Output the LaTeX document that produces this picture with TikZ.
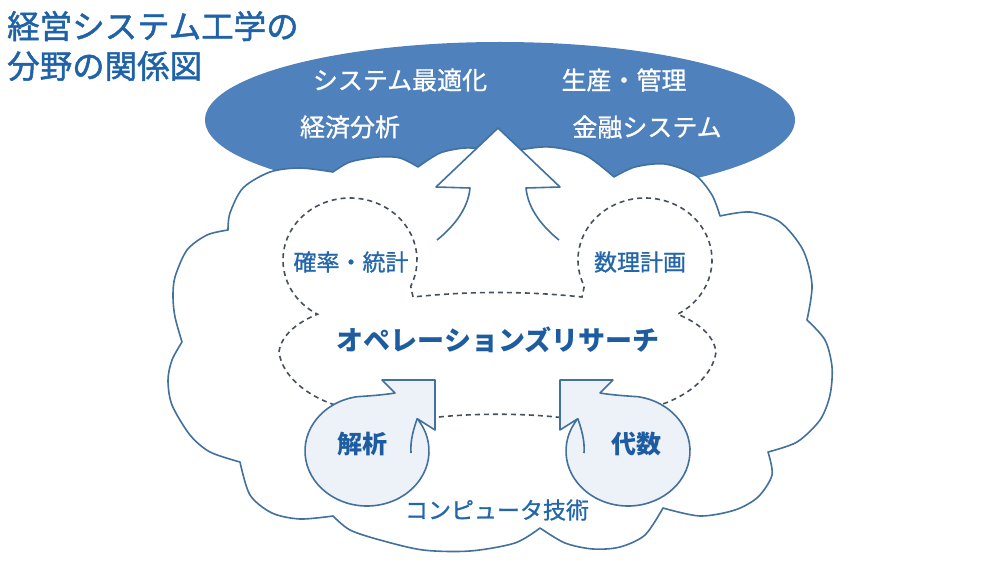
\documentclass[tikz,border=0pt]{standalone}
\usepackage{fontspec}
\setmainfont{Noto Sans CJK JP}
\newfontfamily\medfont{Noto Sans CJK JP}[FakeBold=1.5]
\newfontfamily\semifont{Noto Sans CJK JP}[FakeBold=0.9]
\usetikzlibrary{calc}
\definecolor{ellblue}{HTML}{4F81BD}
\definecolor{edgeblue}{HTML}{41719C}
\definecolor{titleblue}{HTML}{2062A8}
\definecolor{txtblue}{HTML}{2366A9}
\definecolor{boldblue}{HTML}{1D5CA0}
\definecolor{swirlfill}{HTML}{EDF1F8}
\definecolor{dashgray}{HTML}{46505C}
\tikzset{
  outline/.style={draw=edgeblue, line width=1.6pt, line join=round},
  dashline/.style={draw=dashgray, line width=1.6pt, dash pattern=on 5pt off 4pt},
  titletext/.style={anchor=west, inner sep=0pt, text=titleblue, font=\medfont\fontsize{32.5}{36}\selectfont},
  elltext/.style={inner sep=0pt, text=white, font=\semifont\fontsize{25}{28}\selectfont},
  lbl/.style={inner sep=0pt, text=txtblue, font=\semifont\fontsize{23}{26}\selectfont},
  boldlbl/.style={inner sep=0pt, text=boldblue, font=\bfseries\fontsize{25}{28}\selectfont},
}
\begin{document}
\begin{tikzpicture}[x=1pt,y=-1pt]
\useasboundingbox (0,0) rectangle (1008,564);
\fill[white] (0,0) rectangle (1008,564);

% top ellipse
\fill[ellblue] (500,120) ellipse [x radius=295, y radius=78];
\node[elltext] (sysopt) at (400,80) {システム最適化};
\node[elltext] (prod)   at (624,80) {生産・管理};
\node[elltext] (econ)   at (350,127) {経済分析};
\node[elltext] (fin)    at (647,127) {金融システム};

% cloud
\draw[outline, fill=white]
  plot[smooth] coordinates {(182,342) (175,317) (173,297) (175,277) (187,250) (207,235) (228,230)}
  -- plot[smooth] coordinates {(228,230) (230,213) (243,188) (270,172) (300,168) (333,172)}
  -- plot[smooth] coordinates {(333,172) (350,162) (378,157) (400,158) (418,167)}
  -- plot[smooth] coordinates {(418,167) (440,153) (465,148) (485,150) (497,158)}
  -- plot[smooth] coordinates {(497,158) (520,150) (550,147) (585,155) (614,177)}
  -- plot[smooth] coordinates {(614,177) (635,167) (665,164) (695,175) (712,195) (720,216)}
  -- plot[smooth] coordinates {(720,216) (750,212) (780,222) (803,250) (812,285) (807,320)}
  -- plot[smooth] coordinates {(807,320) (825,340) (832,367) (830,395) (820,420) (797,442) (768,452)}
  -- plot[smooth] coordinates {(768,452) (772,475) (758,497) (735,510) (700,516) (663,508)}
  -- plot[smooth] coordinates {(663,508) (645,535) (620,547) (593,549) (565,543) (540,528)}
  -- plot[smooth] coordinates {(540,528) (515,543) (470,551) (423,550) (380,540) (350,530) (333,516)}
  -- plot[smooth] coordinates {(333,516) (300,519) (272,513) (250,495) (240,462)}
  -- plot[smooth] coordinates {(240,462) (210,452) (190,435) (172,405) (168,380) (172,360) (182,342)}
  -- cycle;

% big up arrow
\draw[outline, fill=white] (437,240) .. controls (452,228) and (468,210) .. (470,188)
  -- (436,187) -- (498,128) -- (560,187) -- (526,188)
  .. controls (528,210) and (544,228) .. (559,240);

% dashed OR region
\draw[dashline]
  (335,405) .. controls (305,395) and (282,375) .. (279,352)
  .. controls (281,335) and (298,322) .. ($(350,260)+(119:67 and 62)$)
  arc[start angle=119, end angle=385, x radius=67, y radius=62]
  -- (413,297) .. controls (470,291) and (525,291) .. (582,297)
  -- ($(645,260)+(155:67 and 62)$)
  arc[start angle=155, end angle=421, x radius=67, y radius=62]
  .. controls (697,322) and (714,335) .. (716,352)
  .. controls (713,375) and (690,395) .. (660,405);
\draw[dashline] (430,418) .. controls (470,413) and (525,413) .. (565,418);

% left swirl
\draw[outline, fill=swirlfill] (395,393) .. controls (383,395) and (368,396) .. ($(367,451)+(261:62 and 55)$)
  arc[start angle=261, end angle=-36, x radius=62, y radius=55] coordinate (lt)
  -- (435,430) -- (435,380) -- (382,380) -- cycle;
\draw[outline] (lt) .. controls (414,428) and (410,440) .. (411,453);
% right swirl
\draw[outline, fill=swirlfill] (600,393) .. controls (612,395) and (627,396) .. ($(628,451)+(279:62 and 55)$)
  arc[start angle=279, end angle=576, x radius=62, y radius=55] coordinate (rt)
  -- (560,430) -- (560,380) -- (613,380) -- cycle;
\draw[outline] (rt) .. controls (581,428) and (585,440) .. (584,453);

% labels
\node[lbl] (prob) at (351,262) {確率・統計};
\node[lbl] (mp)   at (640,262) {数理計画};
\node[boldlbl, font=\bfseries\fontsize{27}{30}\selectfont] (or) at (498,340) {オペレーションズリサーチ};
\node[boldlbl] (ana) at (362,444) {解析};
\node[boldlbl] (alg) at (636,444) {代数};
\node[lbl] (comp) at (497,510) {コンピュータ技術};

% title
\node[titletext] (title1) at (7,26) {経営システム工学の};
\node[titletext] (title2) at (7,66) {分野の関係図};
\end{tikzpicture}
\end{document}
